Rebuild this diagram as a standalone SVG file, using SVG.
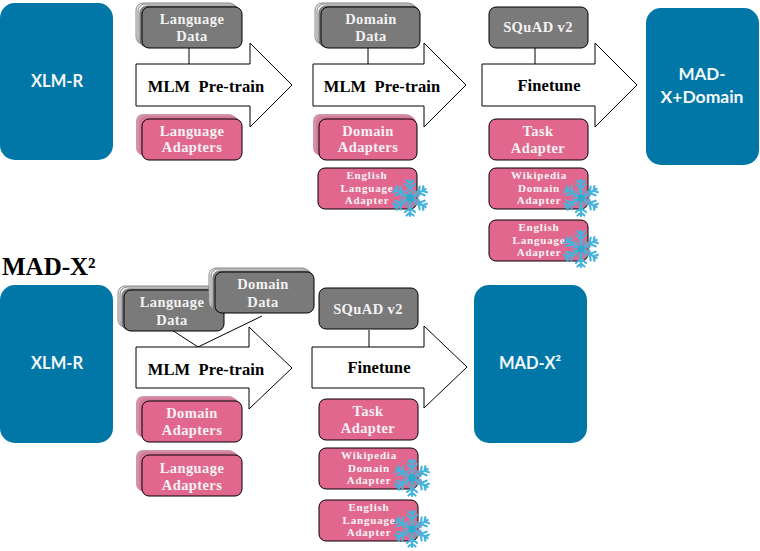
<svg xmlns="http://www.w3.org/2000/svg" width="760" height="551" viewBox="0 0 760 551">
<style>
.blue{fill:#0077a6}
.bt{font:bold 16.500px Lato,"Open Sans",sans-serif;fill:#f4f8fa;text-anchor:middle}
.gray{fill:#7a7a7a;stroke:#000;stroke-width:1}
.gb{fill:#8a8a8a;stroke:#666;stroke-width:1}
.gw{fill:#eee;stroke:#888;stroke-width:1}
.pink{fill:#e2678e;stroke:#000;stroke-width:1}
.pb{fill:#cf94a8;stroke:none}
.pm{fill:#d77a97;stroke:none}
.t{font:bold 14.500px "Liberation Serif",serif;letter-spacing:.4px;fill:#f2f2f2;text-anchor:middle}
.s{font:bold 11px "Liberation Serif",serif;letter-spacing:.8px;fill:#f6f6f6;text-anchor:middle}
.a{fill:#fff;stroke:#000;stroke-width:1}
.l{font:bold 16.500px "Liberation Serif",serif;letter-spacing:.1px;fill:#000;text-anchor:middle;white-space:pre}
.c{fill:none;stroke:#000;stroke-width:1}
.f{fill:none;stroke:#45b4dc;stroke-width:2.200;stroke-linecap:round}
.h{font:bold 25px "Liberation Serif",serif;fill:#000}
</style>
<defs>
<g id="arm"><path d="M0 -3L-3.500 -8L0 -12L3.500 -8Z" fill="#d9708f" stroke="#45b4dc" stroke-width="1"/><path class="f" d="M0 0V-18M0 -10L-5 -14M0 -10L5 -14M0 -14.500L-3.500 -17.500M0 -14.500L3.500 -17.500"/></g>
<g id="flake"><use href="#arm"/><use href="#arm" transform="rotate(60)"/><use href="#arm" transform="rotate(120)"/><use href="#arm" transform="rotate(180)"/><use href="#arm" transform="rotate(240)"/><use href="#arm" transform="rotate(300)"/><circle r="3.800" fill="#2fa9cf"/></g>
<g id="grayback"><rect x="-6" y="-4" width="100" height="41" rx="7" class="gw"/><rect x="-4" y="-3" width="100" height="41" rx="7" class="gw"/><rect x="-2" y="-1" width="100" height="41" rx="7" class="gb"/></g>
<g id="pinkback"><rect x="-6" y="-5" width="100" height="41" rx="7" class="pb"/><rect x="-3" y="-3" width="100" height="41" rx="7" class="pm"/></g>
</defs>

<g id="connectors">
<path class="c" d="M189 48V64M368 48V64M535 48V64M172 330L198 347L262 316M369 330V347"/>
</g>

<g id="xlm-top"><rect class="blue" x="0" y="3" width="113" height="157" rx="15"/><text class="bt" x="57" y="87">XLM-R</text></g>
<g id="arrow1"><path class="a" d="M136 64H250V43L292 85L250 127V106H136Z"/><text class="l" x="206" y="92" xml:space="preserve">MLM  Pre-train</text></g>
<g id="lang-data-1"><use href="#grayback" x="142" y="7"/><rect class="gray" x="142" y="7" width="100" height="41" rx="7"/><text class="t" x="192" y="24">Language</text><text class="t" x="192" y="41">Data</text></g>
<g id="lang-adapters-1"><use href="#pinkback" x="142" y="119"/><rect class="pink" x="142" y="119" width="100" height="41" rx="7"/><text class="t" x="192" y="136">Language</text><text class="t" x="192" y="152">Adapters</text></g>

<g id="arrow2"><path class="a" d="M313 64H424V43L466 85L424 127V106H313Z"/><text class="l" x="382" y="92" xml:space="preserve">MLM  Pre-train</text></g>
<g id="domain-data-1"><use href="#grayback" x="321" y="7"/><rect class="gray" x="321" y="7" width="99" height="41" rx="7"/><text class="t" x="371" y="24">Domain</text><text class="t" x="371" y="41">Data</text></g>
<g id="domain-adapters-1"><use href="#pinkback" x="319" y="119"/><rect class="pink" x="319" y="119" width="98" height="41" rx="7"/><text class="t" x="368" y="136">Domain</text><text class="t" x="368" y="152">Adapters</text></g>
<g id="english-1"><rect class="pink" x="318" y="168" width="99" height="41" rx="7"/><text class="s" x="367" y="179">English</text><text class="s" x="367" y="191.500">Language</text><text class="s" x="367" y="204">Adapter</text><use href="#flake" x="410" y="198"/></g>

<g id="arrow3"><path class="a" d="M482 64H595V43L637 85L595 127V106H482Z"/><text class="l" x="549" y="91">Finetune</text></g>
<g id="squad-1"><rect class="gray" x="489" y="7" width="99" height="41" rx="7"/><text class="t" x="538" y="32">SQuAD v2</text></g>
<g id="task-1"><rect class="pink" x="489" y="119" width="99" height="41" rx="7"/><text class="t" x="538" y="136">Task</text><text class="t" x="538" y="153">Adapter</text></g>
<g id="wiki-1"><rect class="pink" x="489" y="168" width="99" height="41" rx="7"/><text class="s" x="539" y="179">Wikipedia</text><text class="s" x="539" y="191.500">Domain</text><text class="s" x="539" y="204">Adapter</text><use href="#flake" x="581" y="198"/></g>
<g id="english-2"><rect class="pink" x="489" y="220" width="99" height="41" rx="7"/><text class="s" x="539" y="231">English</text><text class="s" x="539" y="243.500">Language</text><text class="s" x="539" y="256">Adapter</text><use href="#flake" x="581" y="249"/></g>
<g id="mad-domain"><rect class="blue" x="646" y="8" width="113" height="157" rx="15"/><text class="bt" x="702" y="80" style="font-size:17px">MAD-</text><text class="bt" x="702" y="103" style="font-size:17.500px">X+Domain</text></g>

<text class="h" x="2" y="275" id="title">MAD-X²</text>

<g id="xlm-bottom"><rect class="blue" x="0" y="285" width="113" height="158" rx="15"/><text class="bt" x="57" y="369">XLM-R</text></g>
<g id="arrow4"><path class="a" d="M136 347H249V327L292 368L249 409V388H136Z"/><text class="l" x="206" y="375" xml:space="preserve">MLM  Pre-train</text></g>
<g id="lang-data-2"><use href="#grayback" x="124" y="290"/><rect class="gray" x="124" y="290" width="100" height="41" rx="7"/><text class="t" x="172" y="307">Language</text><text class="t" x="172" y="325">Data</text></g>
<g id="domain-data-2"><use href="#grayback" x="215" y="272"/><rect class="gray" x="215" y="272" width="99" height="41" rx="7"/><text class="t" x="263" y="289">Domain</text><text class="t" x="263" y="307">Data</text></g>
<g id="domain-adapters-2"><use href="#pinkback" x="142" y="401"/><rect class="pink" x="142" y="401" width="100" height="41" rx="7"/><text class="t" x="192" y="418">Domain</text><text class="t" x="192" y="435">Adapters</text></g>
<g id="lang-adapters-2"><use href="#pinkback" x="142" y="455"/><rect class="pink" x="142" y="455" width="100" height="41" rx="7"/><text class="t" x="192" y="473">Language</text><text class="t" x="192" y="490">Adapters</text></g>

<g id="arrow5"><path class="a" d="M312 347H424V326L467 367L424 408V388H312Z"/><text class="l" x="379" y="373">Finetune</text></g>
<g id="squad-2"><rect class="gray" x="319" y="288" width="99" height="41" rx="7"/><text class="t" x="368" y="314">SQuAD v2</text></g>
<g id="task-2"><rect class="pink" x="319" y="399" width="99" height="41" rx="7"/><text class="t" x="368" y="416">Task</text><text class="t" x="368" y="433">Adapter</text></g>
<g id="wiki-2"><rect class="pink" x="319" y="448" width="99" height="41" rx="7"/><text class="s" x="369" y="459">Wikipedia</text><text class="s" x="369" y="471.500">Domain</text><text class="s" x="369" y="484">Adapter</text><use href="#flake" x="412" y="478"/></g>
<g id="english-3"><rect class="pink" x="319" y="500" width="99" height="41" rx="7"/><text class="s" x="369" y="511">English</text><text class="s" x="369" y="523.500">Language</text><text class="s" x="369" y="536">Adapter</text><use href="#flake" x="412" y="529"/></g>
<g id="mad-x2"><rect class="blue" x="474" y="285" width="113" height="158" rx="15"/><text class="bt" x="530" y="369">MAD-X²</text></g>
</svg>
